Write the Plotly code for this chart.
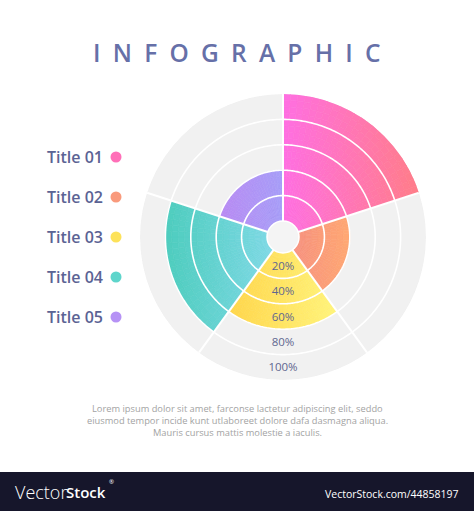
import numpy as np
import plotly.graph_objects as go

# ---------------- data ----------------
categories = ["Title 01", "Title 02", "Title 03", "Title 04", "Title 05"]
values = [100, 40, 60, 80, 40]            # percent
legend_colors = ["#ff6fb8", "#f99a7c", "#fde25a", "#5ed5cb", "#b692f5"]
grad_left = ["#ff6fe2", "#f7917f", "#ffd64c", "#4ecdbe", "#b98bf3"]
grad_right = ["#ff7d88", "#ffa873", "#fff47c", "#7fd9e6", "#a79ef8"]
ring_ticks = [20, 40, 60, 80, 100]
ring_labels = ["20%", "40%", "60%", "80%", "100%"]

W, H = 474, 511
CX, CY, R = 283, 237, 143          # polar centre / radius in px
HOLE = 0.112

fig = go.Figure()

sector = 360 / len(categories)
starts = [i * sector for i in range(len(categories))]
centers = [s + sector / 2 for s in starts]

# grey background sectors
fig.add_trace(go.Barpolar(
    r=[100] * len(categories), theta=centers, width=[sector] * len(categories),
    marker=dict(color="#f1f1f1", line=dict(color="#f1f1f1", width=0.5)),
    hoverinfo="skip", showlegend=False))


def hex2rgb(h):
    h = h.lstrip("#")
    return np.array([int(h[i:i + 2], 16) for i in (0, 2, 4)], float)


def mix(a, b, t):
    c = hex2rgb(a) * (1 - t) + hex2rgb(b) * t
    return "#%02x%02x%02x" % tuple(int(round(v)) for v in c)


def rpx(r):
    return HOLE * R + r / 100 * (1 - HOLE) * R


# coloured sectors, drawn as small cells to reproduce a horizontal gradient
dth, dr = 3.0, 5.0
cell_r, cell_base, cell_th, cell_col = [], [], [], []
for i, v in enumerate(values):
    s = starts[i]
    ths = np.arange(s, s + sector + 1e-9, 0.5)
    xs = np.concatenate([rpx(0) * np.sin(np.radians(ths)), rpx(v) * np.sin(np.radians(ths))])
    xmin, xmax = xs.min(), xs.max()
    for th in np.arange(s + dth / 2, s + sector, dth):
        for b in np.arange(0, v, dr):
            x = rpx(b + dr / 2) * np.sin(np.radians(th))
            t = (x - xmin) / (xmax - xmin)
            cell_r.append(dr)
            cell_base.append(b)
            cell_th.append(th)
            cell_col.append(mix(grad_left[i], grad_right[i], min(max(t, 0), 1)))

fig.add_trace(go.Barpolar(
    r=cell_r, base=cell_base, theta=cell_th, width=[dth] * len(cell_r),
    marker=dict(color=cell_col, line=dict(color=cell_col, width=0.6)),
    hoverinfo="skip", showlegend=False))

# white ring lines
circ = np.linspace(0, 360, 361)
for t in ring_ticks[:-1]:
    fig.add_trace(go.Scatterpolar(
        r=[t] * len(circ), theta=circ, mode="lines",
        line=dict(color="white", width=1.6), hoverinfo="skip", showlegend=False))

# white separators between sectors
for s in starts:
    fig.add_trace(go.Scatterpolar(
        r=[0, 100], theta=[s, s], mode="lines",
        line=dict(color="white", width=2), hoverinfo="skip", showlegend=False))

# percentage labels at band centres, at the bottom
fig.add_trace(go.Scatterpolar(
    r=[t - 9 for t in ring_ticks], theta=[180] * len(ring_ticks), mode="text",
    text=ring_labels, textfont=dict(family="Open Sans", size=11.5, color="#5f6690"),
    hoverinfo="skip", showlegend=False))

# legend on an overlay cartesian axis (pixel units)
leg_y = [157 + 40 * i for i in range(len(categories))]
fig.add_trace(go.Scatter(
    x=[116] * len(categories), y=leg_y, mode="markers",
    marker=dict(size=11, color=legend_colors, line=dict(width=0)),
    xaxis="x", yaxis="y", hoverinfo="skip", showlegend=False))

annotations = []
for name, y in zip(categories, leg_y):
    annotations.append(dict(
        x=45 / W, y=1 - y / H, xref="paper", yref="paper", xanchor="left", yanchor="middle",
        text=name, showarrow=False,
        font=dict(family="Open Sans", size=16, color="#5b6394", weight=600)))

annotations.append(dict(
    x=237 / W, y=1 - 53 / H, xref="paper", yref="paper", xanchor="center", yanchor="middle",
    text="\u2002".join("INFOGRAPHIC"), showarrow=False,
    font=dict(family="Open Sans", size=24.5, color="#6670a8", weight=600)))

lorem = ["Lorem ipsum dolor sit amet, farconse lactetur adipiscing elit, seddo",
         "eiusmod tempor incide kunt utlaboreet dolore dafa dasmagna aliqua.",
         "Mauris cursus mattis molestie a iaculis."]
for k, line in enumerate(lorem):
    annotations.append(dict(
        x=237 / W, y=1 - (408 + 12 * k) / H, xref="paper", yref="paper",
        xanchor="center", yanchor="middle", text=line, showarrow=False,
        font=dict(family="Open Sans", size=9.3, color="#a3a3a3")))

# footer bar texts
annotations.append(dict(
    x=13 / W, y=1 - 492 / H, xref="paper", yref="paper", xanchor="left", yanchor="middle",
    text="Vector", showarrow=False,
    font=dict(family="Open Sans", size=18, color="white", weight=300)))
annotations.append(dict(
    x=64 / W, y=1 - 492 / H, xref="paper", yref="paper", xanchor="left", yanchor="middle",
    text="Stock", showarrow=False,
    font=dict(family="Open Sans", size=15, color="white", weight=600)))
annotations.append(dict(
    x=107 / W, y=1 - 482 / H, xref="paper", yref="paper", xanchor="left", yanchor="middle",
    text="®", showarrow=False,
    font=dict(family="Open Sans", size=6, color="white")))
annotations.append(dict(
    x=461 / W, y=1 - 494 / H, xref="paper", yref="paper", xanchor="right", yanchor="middle",
    text="VectorStock.com/44858197", showarrow=False,
    font=dict(family="Open Sans", size=10.5, color="white")))

shapes = [
    dict(type="rect", xref="paper", yref="paper", x0=0, x1=1, y0=0, y1=(H - 472) / H,
         fillcolor="#16162b", line=dict(width=0), layer="below"),
    dict(type="circle", xref="x", yref="y", x0=CX - HOLE * R, x1=CX + HOLE * R,
         y0=CY - HOLE * R, y1=CY + HOLE * R, fillcolor="#f4f4f4",
         line=dict(color="white", width=1.5), layer="above"),
]

fig.update_layout(
    width=W, height=H, margin=dict(l=0, r=0, t=0, b=0),
    paper_bgcolor="white", plot_bgcolor="rgba(0,0,0,0)",
    showlegend=False,
    polar=dict(
        domain=dict(x=[(CX - R) / W, (CX + R) / W], y=[(H - CY - R) / H, (H - CY + R) / H]),
        hole=HOLE, bgcolor="rgba(0,0,0,0)",
        radialaxis=dict(range=[0, 100], visible=False, showgrid=False),
        angularaxis=dict(direction="clockwise", rotation=90, visible=False, showgrid=False),
        bargap=0,
    ),
    xaxis=dict(range=[0, W], domain=[0, 1], visible=False, fixedrange=True),
    yaxis=dict(range=[H, 0], domain=[0, 1], visible=False, fixedrange=True),
    annotations=annotations, shapes=shapes,
)

fig.write_html("out.html", config={"displayModeBar": False},
               post_script="document.body.style.margin='0';")
